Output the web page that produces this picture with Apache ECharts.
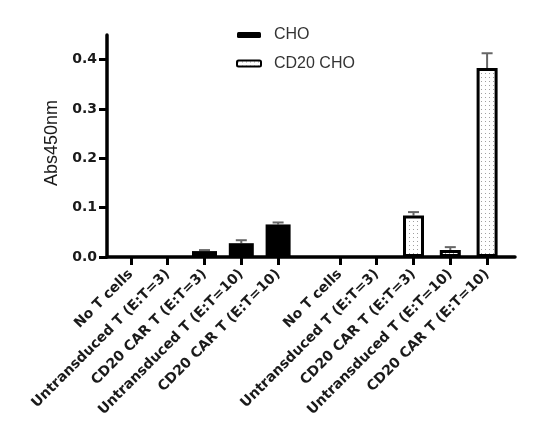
<!DOCTYPE html>
<html lang="en">
<head>
  <meta charset="UTF-8">
  <title>Abs450nm</title>
  <script src="https://cdn.jsdelivr.net/npm/echarts@6/dist/echarts.min.js"></script>
  <style>
    * { margin: 0; padding: 0; }
    body { background: #fff; }
    #chart { width: 545px; height: 437px; }
  </style>
</head>
<body>
  <div id="chart"></div>
  <script>
    const categories = ['No T cells', 'Untransduced T (E:T=3)', 'CD20 CAR T (E:T=3)', 'Untransduced T (E:T=10)', 'CD20 CAR T (E:T=10)'];
    const choMean = [0, 0, 0.012, 0.028, 0.066];
    const choErr = [0, 0, 0.002, 0.006, 0.004];
    const cd20Mean = [0, 0, 0.084, 0.014, 0.383];
    const cd20Err = [0, 0, 0.007, 0.006, 0.030];
    const yTicks = [0, 0.1, 0.2, 0.3, 0.4];

    const font = "'Liberation Sans', Arial, sans-serif";
    const tickFont = "'DejaVu Sans', sans-serif";

    // dotted fill for CD20 CHO bars
    const dots = document.createElement('canvas');
    dots.width = 4;
    dots.height = 4;
    const ctx = dots.getContext('2d');
    ctx.fillStyle = '#fff';
    ctx.fillRect(0, 0, 4, 4);
    ctx.fillStyle = '#a0a0a0';
    ctx.fillRect(1, 1, 1, 1);

    function errData(mean, err) {
      return mean.map((m, i) => [i, m, m + err[i]]).filter((d, i) => err[i] > 0);
    }

    function renderErr(params, api) {
      const x = api.value(0);
      const p0 = api.coord([x, api.value(1)]);
      const p1 = api.coord([x, api.value(2)]);
      const st = { stroke: '#666', lineWidth: 2 };
      return {
        type: 'group',
        children: [
          { type: 'line', shape: { x1: p0[0], y1: p0[1], x2: p1[0], y2: p1[1] }, style: st },
          { type: 'line', shape: { x1: p1[0] - 5.5, y1: p1[1], x2: p1[0] + 5.5, y2: p1[1] }, style: st }
        ]
      };
    }

    const chart = echarts.init(document.getElementById('chart'));

    const catAxis = (idx) => ({
      type: 'category',
      gridIndex: idx,
      data: categories,
      axisLine: { show: false },
      axisTick: { show: true, alignWithLabel: true, length: 8, lineStyle: { color: '#000', width: 3 } },
      axisLabel: {
        interval: 0, rotate: 45, margin: 15,
        fontSize: 14, fontWeight: 'bold', fontFamily: tickFont, color: '#1a1a1a'
      }
    });

    const hiddenY = (idx) => ({ type: 'value', gridIndex: idx, min: 0, max: 0.45, show: false });

    const option = {
      animation: false,
      grid: [
        { left: 107, top: 35, width: 408, height: 222 },
        { left: 112.5, top: 35, width: 184, height: 222 },
        { left: 321.5, top: 35, width: 184, height: 222 }
      ],
      graphic: [{
        type: 'text',
        x: 52,
        y: 143,
        rotation: Math.PI / 2,
        style: {
          text: 'Abs450nm',
          fontSize: 18,
          fontFamily: font,
          fill: '#1a1a1a',
          align: 'center',
          verticalAlign: 'middle'
        }
      }],
      legend: {
        orient: 'vertical',
        left: 236,
        top: 27,
        padding: 0,
        itemWidth: 24,
        itemHeight: 6,
        itemGap: 12.5,
        textStyle: { fontSize: 16, fontFamily: font, color: '#333', lineHeight: 16, padding: [0, 0, 0, 8] },
        data: [
          { name: 'CHO' },
          { name: 'CD20 CHO', itemStyle: { borderWidth: 2 } }
        ]
      },
      xAxis: [
        {
          type: 'value', gridIndex: 0, min: 0, max: 1,
          axisLine: { show: true, lineStyle: { color: '#000', width: 3.5 } },
          axisTick: { show: false }, axisLabel: { show: false }, splitLine: { show: false }
        },
        catAxis(1),
        catAxis(2)
      ],
      yAxis: [
        {
          type: 'value', gridIndex: 0, min: 0, max: 0.45,
          axisLine: { show: true, lineStyle: { color: '#000', width: 3.5 } },
          axisTick: { show: true, length: 8, customValues: yTicks, lineStyle: { color: '#000', width: 3 } },
          axisLabel: {
            customValues: yTicks, margin: 10,
            fontSize: 14, fontWeight: 'bold', fontFamily: tickFont, color: '#1a1a1a',
            formatter: (v) => v.toFixed(1)
          },
          splitLine: { show: false }
        },
        hiddenY(1),
        hiddenY(2)
      ],
      series: [
        {
          name: 'CHO err', type: 'custom', xAxisIndex: 1, yAxisIndex: 1,
          renderItem: renderErr, data: errData(choMean, choErr)
        },
        {
          name: 'CD20 CHO err', type: 'custom', xAxisIndex: 2, yAxisIndex: 2,
          renderItem: renderErr, data: errData(cd20Mean, cd20Err)
        },
        {
          name: 'CHO', type: 'bar', xAxisIndex: 1, yAxisIndex: 1,
          barWidth: 25,
          itemStyle: { color: '#000' },
          data: choMean
        },
        {
          name: 'CD20 CHO', type: 'bar', xAxisIndex: 2, yAxisIndex: 2,
          barWidth: 21,
          itemStyle: { color: { image: dots, repeat: 'repeat' }, borderColor: '#000', borderWidth: 3 },
          // zero-height bars would leave a stray border stroke
          data: cd20Mean.map((v) => (v > 0 ? v : '-'))
        }
      ]
    };

    chart.setOption(option);
  </script>
</body>
</html>
